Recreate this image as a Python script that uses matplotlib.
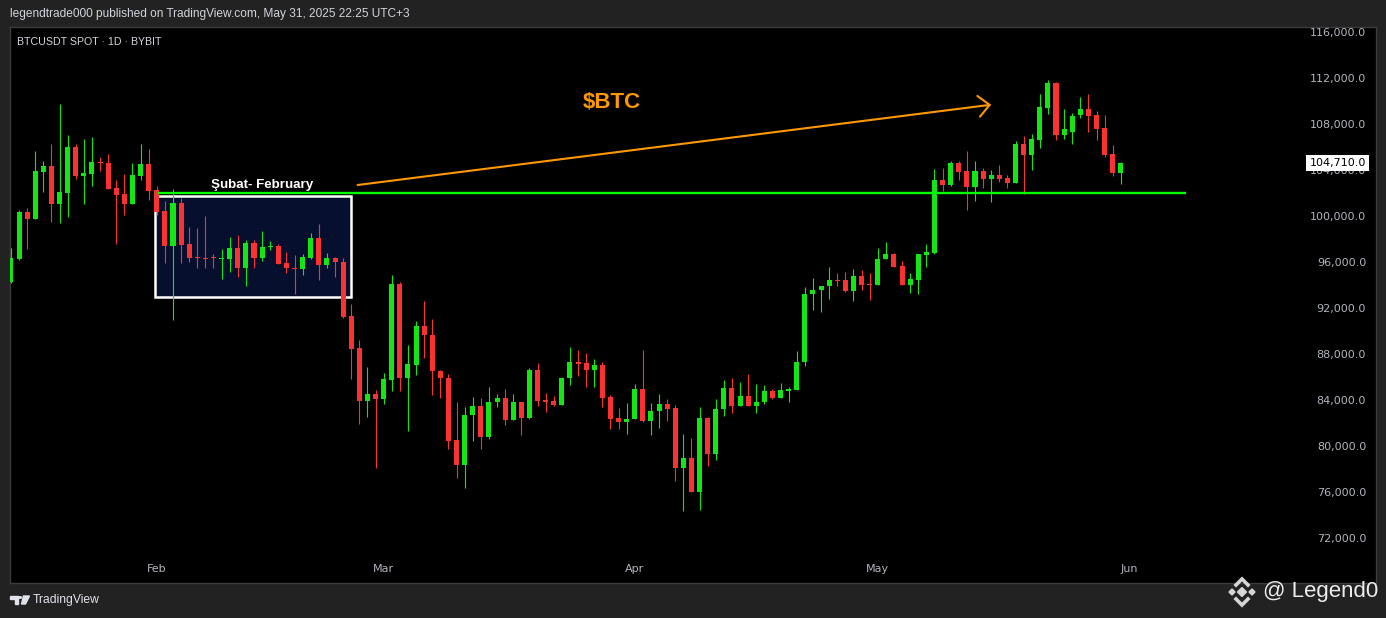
import numpy as np
import pandas as pd
import matplotlib
matplotlib.use('Agg')
import matplotlib.pyplot as plt
from matplotlib.patches import Rectangle, Polygon, RegularPolygon

# daily BTCUSDT candles, 14 Jan - 31 May 2025
start_date = '2025-01-14'
opens = [94370, 96370, 100410, 99850, 103940, 104440, 101160, 102110, 106060, 103590,
         103770, 104810, 104700, 102500, 101970, 101160, 103590, 104610,
         102350, 100520, 97500, 101220, 97650, 96520, 96430, 96480, 96350, 96370,
         97300, 95590, 97740, 96460, 97390, 97480, 95980, 95590, 95450, 96460,
         98170, 95850, 96430, 96110, 91390, 88600, 84010, 84600,
         84200, 85850, 94170, 86020, 87150, 90520, 89760, 86630, 86020, 80600,
         78400, 82750, 83560, 80900, 83900, 84260, 82390, 83900, 82540, 86690,
         84060, 83990, 83670, 85960, 87400, 87300, 86690, 87130, 84340, 82520, 82190,
         82400, 85040, 82280, 83130, 83740, 83390, 78190, 79030, 76120, 82520,
         79420, 83290, 85120, 83590, 84430, 83560, 83900, 84860, 84280, 84890,
         85000, 87390, 93310, 93610, 93960, 94520, 94520, 93590, 94870, 94200,
         94110, 96320, 96780, 95740, 94110, 94520, 96700, 96870, 103220, 102780,
         104700, 104000, 102610, 104000, 103300, 103650, 103390, 102960, 106350, 105390,
         106700, 109480, 111660, 107130, 107390, 108870, 109390, 108870, 107740, 105480,
         103830]
highs = [97280, 100610, 100780, 105740, 104870, 106350, 109830, 107110, 106350, 106790,
         106990, 105220, 105480, 103220, 103740, 104670, 106350, 105920,
         102700, 101390, 102440, 101630, 99130, 99040, 100090, 96780, 97220, 98260,
         98430, 98000, 98000, 98780, 97900, 97650, 96960, 96690, 96780, 98610,
         99390, 96870, 96520, 96430, 92430, 89300, 86950, 85000,
         86430, 94950, 94340, 88860, 90950, 92690, 91150, 86720, 86370, 83900,
         83470, 84340, 84260, 85220, 84600, 85030, 84600, 83900, 86860, 87300,
         84670, 84430, 86000, 88700, 88440, 88170, 87650, 87400, 84510, 83380, 83820,
         85480, 88430, 83820, 84600, 84170, 83650, 81140, 80790, 83470,
         82600, 84170, 85820, 85990, 85650, 86340, 85480, 85390, 85040, 85560,
         85220, 88350, 93910, 94690, 94000, 95650, 95130, 95220, 95480, 95390,
         95130, 97300, 97820, 96870, 96170, 95130, 96780, 97650, 104180, 104260,
         104870, 104870, 105740, 104870, 104260, 104090, 104520, 103650, 106610, 107050,
         107220, 110700, 111920, 111740, 109390, 109040, 110430, 110700, 109220, 108870,
         106260, 104780]
lows = [94290, 96300, 97240, 99850, 102200, 99590, 99500, 100030, 103280, 101160,
        102720, 104030, 102460, 97680, 100200, 101160, 103220, 101500,
        100170, 96020, 91020, 96020, 96110, 95590, 95530, 95590, 94610, 95190,
        94780, 94020, 95590, 96200, 97130, 95940, 95090, 93330, 94980, 96370,
        94520, 95590, 94800, 91240, 85930, 82020, 82630, 78190,
        83750, 84900, 84900, 81410, 86280, 87770, 84510, 84290, 79830, 77330,
        76460, 80550, 79830, 80730, 83500, 81870, 82390, 81070, 82450, 83600,
        83050, 83600, 83670, 85420, 86190, 85250, 85190, 83470, 81560, 81530, 81140,
        82400, 82190, 81050, 81650, 82280, 77060, 74430, 76120, 74520,
        78380, 78890, 82720, 82980, 83590, 83560, 82980, 83730, 84200, 84280,
        83870, 85000, 87040, 91940, 91700, 92870, 93960, 93510, 92700, 93680,
        92790, 94110, 96320, 95680, 94110, 93420, 93330, 95650, 96780, 102260,
        102700, 103220, 100610, 101390, 102520, 101300, 103040, 102520, 102960, 101990,
        104090, 106000, 108960, 106700, 106790, 106350, 108610, 107390, 106700, 105220,
        103570, 102870]
closes = [96410, 100410, 99850, 104000, 104440, 101160, 102150, 106060, 103590, 103800,
          104760, 104670, 102460, 101940, 101160, 103630, 104590, 102290,
          100460, 97500, 101190, 97590, 96460, 96430, 96350, 96420, 96400, 97280,
          95590, 97740, 96460, 97390, 97500, 95940, 95590, 95450, 96520, 98170,
          95850, 96430, 96110, 91330, 88540, 84010, 84600, 84200,
          85900, 94170, 86020, 87210, 90520, 89760, 86580, 86020, 80550, 78400,
          82780, 83560, 80900, 83910, 84260, 82390, 83900, 82540, 86690, 84030,
          83930, 83670, 85990, 87400, 87220, 86690, 87130, 84260, 82430, 82190, 82430,
          85040, 82280, 83130, 83740, 83330, 78190, 79030, 76120, 82520,
          79420, 83300, 85120, 83590, 84430, 83560, 83900, 84860, 84280, 84950,
          85040, 87400, 93300, 93640, 94000, 94520, 94430, 93590, 94870, 94110,
          94110, 96350, 96780, 95680, 94110, 94610, 96780, 96960, 103220, 102780,
          104700, 103910, 102610, 104000, 103300, 103650, 103300, 102960, 106350, 105390,
          106790, 109570, 111660, 107130, 107650, 108780, 109390, 108780, 107650, 105390,
          103830, 104710]
month_labels = ['Feb', 'Mar', 'Apr', 'May', 'Jun']
month_starts = ['2025-02-01', '2025-03-01', '2025-04-01', '2025-05-01', '2025-06-01']
price_ticks = np.arange(72000, 116001, 4000)
last_price = 104710
level_price = 102100
box_low, box_high = 93070, 101850

W, H = 1386, 618
BG = '#222222'
UP, DOWN = '#14e614', '#fa3232'
AXIS_TXT = '#b2b5be'
ORANGE = '#ff9800'


def fpx(x, y):
    return x / W, 1 - y / H


dates = pd.date_range(start_date, periods=len(opens), freq='D')
o, h, l, c = map(np.array, (opens, highs, lows, closes))
x = np.arange(len(dates))
up = c >= o
colors = np.where(up, UP, DOWN)

fig = plt.figure(figsize=(W / 100, H / 100), dpi=100, facecolor=BG)
ax = fig.add_axes([10 / W, (H - 583) / H, 1366 / W, 556 / H], facecolor='black')
ax.set_xlim(-0.12, 168.5)
ax.set_ylim(68174, 116522)
for s in ax.spines.values():
    s.set_color('#3c3c3c')
    s.set_linewidth(1)
ax.set_xticks([])
ax.set_yticks([])

# candles
ax.vlines(x, l, h, colors=colors, lw=0.8, zorder=3)
body_low = np.minimum(o, c)
body_h = np.maximum(np.abs(c - o), 70)
ax.bar(x, body_h, bottom=body_low, width=0.62, color=colors, linewidth=0, zorder=4)

# February range box
ax.add_patch(Rectangle((17.8, box_low), 24.2, box_high - box_low, facecolor='#06102e',
                       edgecolor='white', lw=1.8, zorder=1))
ax.text(31, level_price + 150, 'Şubat- February', color='white', fontsize=9.6,
        fontweight='bold', family='Liberation Sans', ha='center', va='bottom', zorder=6)

# support line
ax.hlines(level_price, 18.1, 145.1, color='#00ff00', lw=1.7, zorder=5)

# arrow + label
ax.annotate('', xy=(121.0, 109765), xytext=(42.8, 102783),
            arrowprops=dict(arrowstyle='->,head_length=0.8,head_width=0.75',
                            color=ORANGE, lw=1.5, shrinkA=0, shrinkB=0), zorder=6)
ax.text(74.2, 110000, '$BTC', color=ORANGE, fontsize=16, fontweight='bold',
        family='Liberation Sans', ha='center', va='center', zorder=6)

# price scale
ytx = (1366 - 10) / 1366
for p in price_ticks:
    ax.text(ytx, p, f'{p:,.1f}', transform=ax.get_yaxis_transform(), ha='right',
            va='center', color=AXIS_TXT, fontsize=8, zorder=7)
ax.text(ytx, last_price, f'{last_price:,.1f}', transform=ax.get_yaxis_transform(),
        ha='right', va='center', color='black', fontsize=8, zorder=10,
        bbox=dict(boxstyle='square,pad=0.3', fc='white', ec='none'))

# time scale
for lab, d in zip(month_labels, month_starts):
    xi = (pd.Timestamp(d) - dates[0]).days
    ax.text(xi, 14 / 556, lab, transform=ax.get_xaxis_transform(), ha='center',
            va='center', color=AXIS_TXT, fontsize=8)

# header
fig.text(*fpx(10, 14), 'legendtrade000 published on TradingView.com, May 31, 2025 22:25 UTC+3',
         color='#d1d4dc', fontsize=8.6, family='Liberation Sans', va='center')
fig.text(*fpx(17, 42), 'BTCUSDT SPOT · 1D · BYBIT', color='#d1d4dc', fontsize=7.7,
         family='Liberation Sans', va='center')

# TradingView footer logo
logo_c = '#e0e3eb'
T = fig.transFigure
fig.add_artist(Polygon([fpx(10, 596), fpx(17.5, 596), fpx(17.5, 604), fpx(14.5, 604),
                        fpx(14.5, 599), fpx(10, 599)], closed=True, color=logo_c, transform=T))
fig.add_artist(RegularPolygon(fpx(20, 597.5), 12, radius=1.6 / W, color=logo_c, transform=T))
fig.add_artist(Polygon([fpx(23.5, 596), fpx(29.5, 596), fpx(25.5, 604), fpx(21.5, 604)],
                       closed=True, color=logo_c, transform=T))
fig.text(*fpx(33, 600.5), 'TradingView', color=logo_c, fontsize=8.7,
         family='Liberation Sans', va='center')

# watermark
bn = '#d6d6d6'
cx, cy = 1242, 592
for dx, dy, r in [(0, 0, 4.5), (-10, 0, 3), (10, 0, 3)]:
    fig.add_artist(Polygon([fpx(cx + dx, cy + dy - r), fpx(cx + dx + r, cy + dy),
                            fpx(cx + dx, cy + dy + r), fpx(cx + dx - r, cy + dy)],
                           closed=True, color=bn, transform=T))
for sgn in (-1, 1):
    pts = [fpx(cx - 6, cy + sgn * 7), fpx(cx, cy + sgn * 13), fpx(cx + 6, cy + sgn * 7)]
    xs, ys = zip(*pts)
    fig.add_artist(plt.Line2D(xs, ys, color=bn, lw=2.6, transform=T,
                              solid_joinstyle='miter'))
fig.text(*fpx(1378, 592), '@ Legend0', color='#ececec', fontsize=16,
         family='Liberation Sans', ha='right', va='center')

fig.savefig('out.png', dpi=100, facecolor=BG)
